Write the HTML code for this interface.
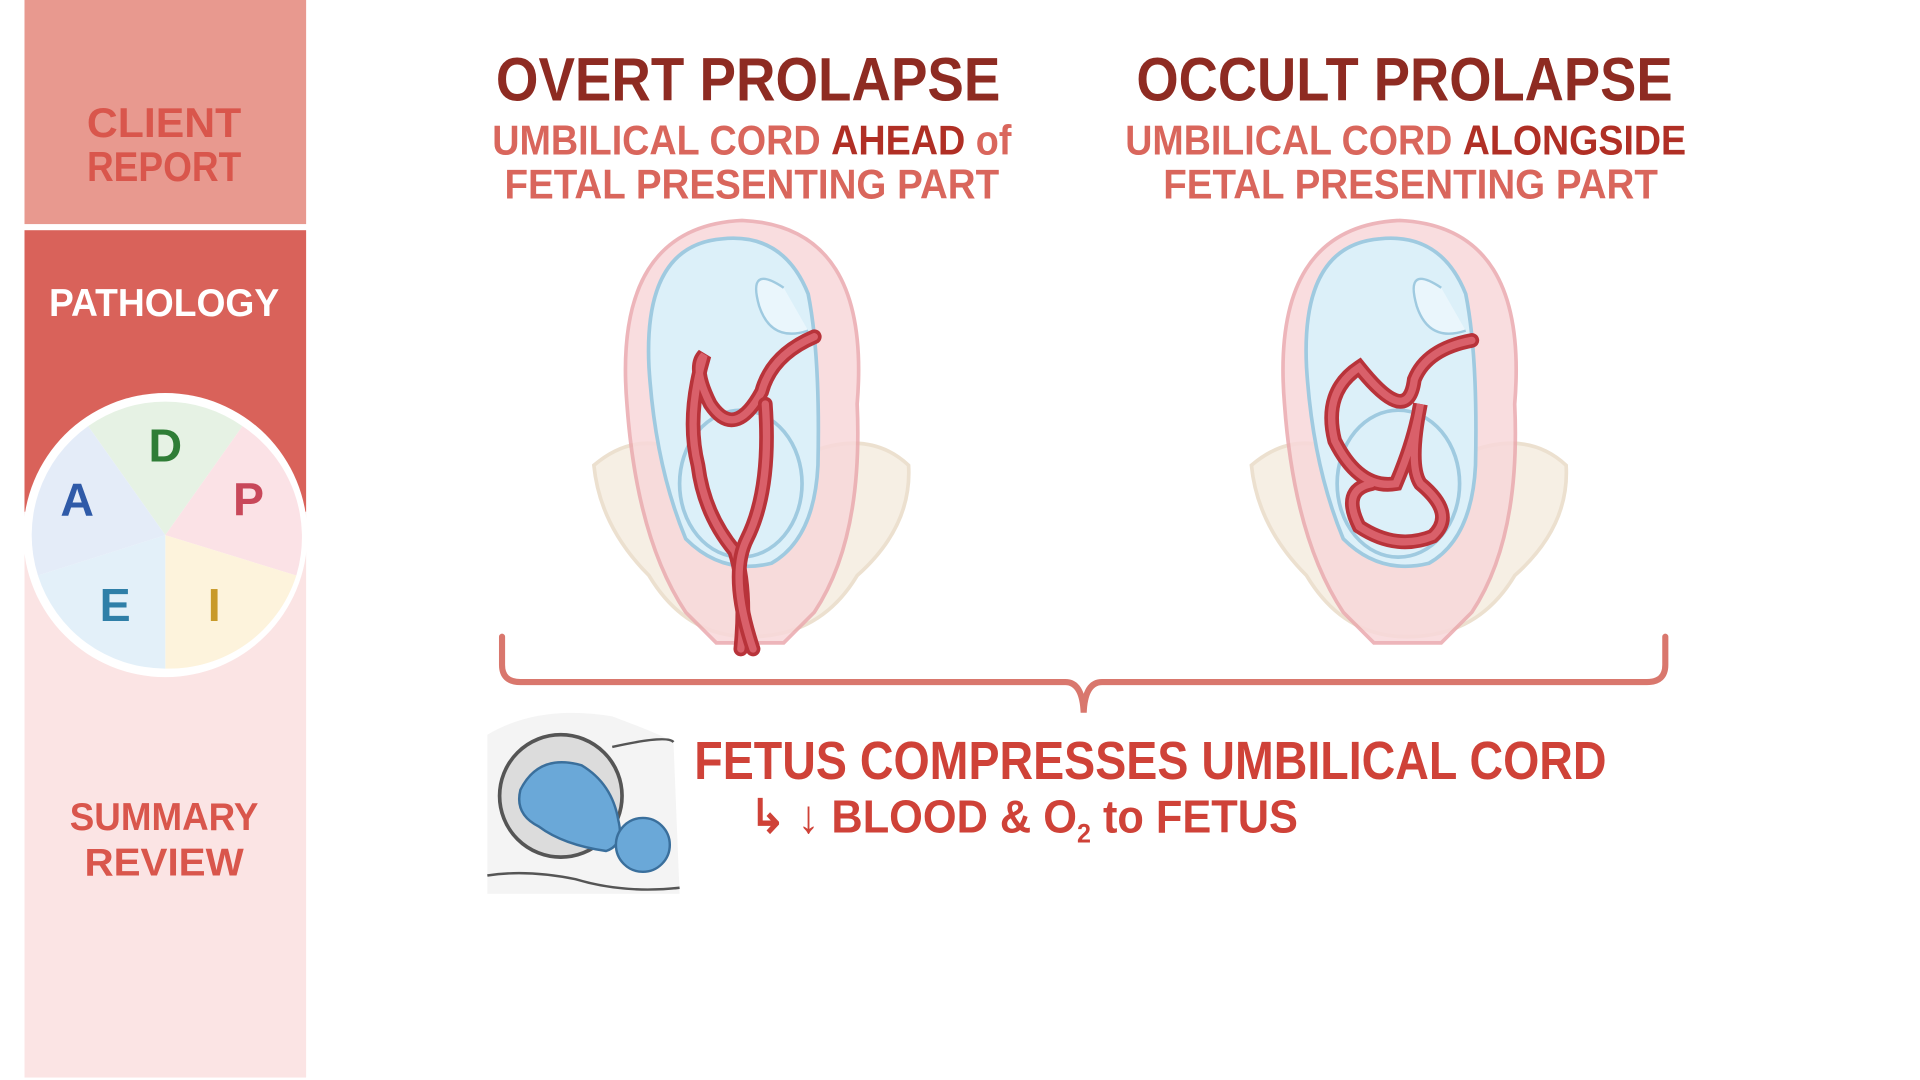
<!DOCTYPE html>
<html><head><meta charset="utf-8"><style>
html,body{margin:0;padding:0;background:#fff;}
svg{display:block}
text{font-family:"Liberation Sans",sans-serif;font-weight:bold;}
</style></head><body>
<svg width="1920" height="1080" viewBox="0 0 1568 882" xmlns="http://www.w3.org/2000/svg">
<rect width="1568" height="882" fill="#fff"/>
<rect x="20" y="0" width="230" height="183" fill="#e8998f"/>
<rect x="20" y="188" width="230" height="230" fill="#d9625a"/>
<rect x="20" y="418" width="230" height="462" fill="#fbe4e4"/>
<text x="134" y="112" text-anchor="middle" font-size="34" fill="#d9564c" textLength="126" lengthAdjust="spacingAndGlyphs">CLIENT</text>
<text x="134" y="148" text-anchor="middle" font-size="34" fill="#d9564c" textLength="126" lengthAdjust="spacingAndGlyphs">REPORT</text>
<text x="134" y="258" text-anchor="middle" font-size="32" fill="#fff" textLength="188" lengthAdjust="spacingAndGlyphs">PATHOLOGY</text>
<g transform="translate(135,437)">
<circle r="116" fill="#fff"/>
<path d="M0,0 L-63,-89 A109,109 0 0 1 63,-89 Z" fill="#e6f2e4"/>
<path d="M0,0 L63,-89 A109,109 0 0 1 107,33 Z" fill="#fbe2e6"/>
<path d="M0,0 L107,33 A109,109 0 0 1 0,109 Z" fill="#fdf3dc"/>
<path d="M0,0 L0,109 A109,109 0 0 1 -104,33 Z" fill="#e3f0f9"/>
<path d="M0,0 L-104,33 A109,109 0 0 1 -63,-89 Z" fill="#e4ecf8"/>
<text x="0" y="-60" text-anchor="middle" font-size="38" fill="#2f7d36">D</text>
<text x="68" y="-16" text-anchor="middle" font-size="38" fill="#c8485a">P</text>
<text x="-72" y="-16" text-anchor="middle" font-size="38" fill="#2f5aa8">A</text>
<text x="-41" y="70" text-anchor="middle" font-size="38" fill="#2f7fa8">E</text>
<text x="40" y="70" text-anchor="middle" font-size="38" fill="#c89a2a">I</text>
</g>
<text x="134" y="678" text-anchor="middle" font-size="32" fill="#d9564c" textLength="154" lengthAdjust="spacingAndGlyphs">SUMMARY</text>
<text x="134" y="715" text-anchor="middle" font-size="32" fill="#d9564c" textLength="130" lengthAdjust="spacingAndGlyphs">REVIEW</text>

<text x="405" y="82" font-size="50" fill="#8e2b22" textLength="412" lengthAdjust="spacingAndGlyphs">OVERT PROLAPSE</text>
<text x="402" y="126" font-size="34" fill="#d9665c" textLength="424" lengthAdjust="spacingAndGlyphs">UMBILICAL CORD <tspan fill="#b02f25">AHEAD</tspan> of</text>
<text x="412" y="162" font-size="34" fill="#d9665c" textLength="404" lengthAdjust="spacingAndGlyphs">FETAL PRESENTING PART</text>
<text x="928" y="82" font-size="50" fill="#8e2b22" textLength="438" lengthAdjust="spacingAndGlyphs">OCCULT PROLAPSE</text>
<text x="919" y="126" font-size="34" fill="#d9665c" textLength="458" lengthAdjust="spacingAndGlyphs">UMBILICAL CORD <tspan fill="#b02f25">ALONGSIDE</tspan></text>
<text x="950" y="162" font-size="34" fill="#d9665c" textLength="404" lengthAdjust="spacingAndGlyphs">FETAL PRESENTING PART</text>

<g>
<path d="M485,380 Q520,350 560,370 L660,370 Q710,350 742,380 Q745,430 700,470 Q670,520 612,520 Q560,520 530,470 Q490,430 485,380Z" fill="#f6efe4" stroke="#ece0cf" stroke-width="3"/>
<path d="M606,180 Q500,185 512,330 Q520,440 560,500 L585,525 L640,525 L665,500 Q705,440 700,330 Q712,185 606,180Z" fill="#f8d8da" stroke="#eaa9ae" stroke-width="3" opacity="0.85"/>
<path d="M590,195 Q525,200 530,300 Q535,380 560,440 Q590,470 630,460 Q665,440 668,380 Q670,290 660,240 Q640,190 590,195Z" fill="#dcf0f9" stroke="#9fcae0" stroke-width="3"/>
<ellipse cx="605" cy="395" rx="50" ry="60" fill="#dcf0f9" stroke="#9fcae0" stroke-width="3"/>
<path d="M640,235 Q610,215 620,250 Q630,280 660,270" fill="#eaf6fc" stroke="#9fcae0" stroke-width="2"/>
<path d="M665,275 Q630,290 622,320 Q600,360 580,330 Q565,300 575,290 Q560,340 570,380 Q575,420 600,450 Q610,480 605,530" fill="none" stroke="#b8333a" stroke-width="12" stroke-linecap="round"/>
<path d="M665,275 Q630,290 622,320 Q600,360 580,330 Q565,300 575,290 Q560,340 570,380 Q575,420 600,450 Q610,480 605,530" fill="none" stroke="#d9606a" stroke-width="6" stroke-linecap="round"/>
<path d="M625,330 Q630,400 610,440 Q595,470 615,530" fill="none" stroke="#b8333a" stroke-width="12" stroke-linecap="round"/>
<path d="M625,330 Q630,400 610,440 Q595,470 615,530" fill="none" stroke="#d9606a" stroke-width="6" stroke-linecap="round"/>
</g>
<g>
<path d="M1022,380 Q1057,350 1097,370 L1197,370 Q1247,350 1279,380 Q1282,430 1237,470 Q1207,520 1149,520 Q1097,520 1067,470 Q1027,430 1022,380Z" fill="#f6efe4" stroke="#ece0cf" stroke-width="3"/>
<path d="M1143,180 Q1037,185 1049,330 Q1057,440 1097,500 L1122,525 L1177,525 L1202,500 Q1242,440 1237,330 Q1249,185 1143,180Z" fill="#f8d8da" stroke="#eaa9ae" stroke-width="3" opacity="0.85"/>
<path d="M1127,195 Q1062,200 1067,300 Q1072,380 1097,440 Q1127,470 1167,460 Q1202,440 1205,380 Q1207,290 1197,240 Q1177,190 1127,195Z" fill="#dcf0f9" stroke="#9fcae0" stroke-width="3"/>
<ellipse cx="1142" cy="395" rx="50" ry="60" fill="#dcf0f9" stroke="#9fcae0" stroke-width="3"/>
<path d="M1177,235 Q1147,215 1157,250 Q1167,280 1197,270" fill="#eaf6fc" stroke="#9fcae0" stroke-width="2"/>
<path d="M1202,278 Q1165,285 1155,310 Q1150,350 1110,300 Q1080,320 1090,360 Q1110,400 1140,395 Q1155,360 1160,330 Q1150,380 1160,395 Q1190,420 1170,438 Q1140,450 1110,430 Q1095,400 1120,395" fill="none" stroke="#b8333a" stroke-width="12" stroke-linecap="round"/>
<path d="M1202,278 Q1165,285 1155,310 Q1150,350 1110,300 Q1080,320 1090,360 Q1110,400 1140,395 Q1155,360 1160,330 Q1150,380 1160,395 Q1190,420 1170,438 Q1140,450 1110,430 Q1095,400 1120,395" fill="none" stroke="#d9606a" stroke-width="6" stroke-linecap="round"/>
</g>

<path d="M410,520 L410,543 Q410,557 425,557 L870,557 Q884,557 885,582 Q886,557 900,557 L1345,557 Q1360,557 1360,543 L1360,520" fill="none" stroke="#d9776d" stroke-width="5" stroke-linecap="round"/>

<g>
<path d="M398,600 Q440,575 500,585 Q540,600 550,606 L555,730 L398,730Z" fill="#f4f4f4"/>
<path d="M398,715 Q430,710 470,718 Q510,730 555,725" fill="none" stroke="#555" stroke-width="2"/>
<ellipse cx="458" cy="650" rx="50" ry="50" fill="#dcdcdc" stroke="#555" stroke-width="3"/>
<path d="M425,645 Q440,615 475,625 Q500,640 505,670 Q510,690 495,695 Q460,690 440,675 Q420,665 425,645Z" fill="#6aa8d8" stroke="#3a6f9c" stroke-width="2"/>
<circle cx="525" cy="690" r="22" fill="#6aa8d8" stroke="#3a6f9c" stroke-width="2"/>
<path d="M500,610 Q545,600 550,606" fill="none" stroke="#555" stroke-width="2"/>
</g>

<text x="567" y="636" font-size="44" fill="#cf4238" textLength="745" lengthAdjust="spacingAndGlyphs">FETUS COMPRESSES UMBILICAL CORD</text>
<text x="612" y="680" font-size="38" fill="#cf4238" textLength="448" lengthAdjust="spacingAndGlyphs">↳ ↓ BLOOD &amp; O<tspan font-size="22" dy="8">2</tspan><tspan dy="-8"> to FETUS</tspan></text>
</svg>
</body></html>
